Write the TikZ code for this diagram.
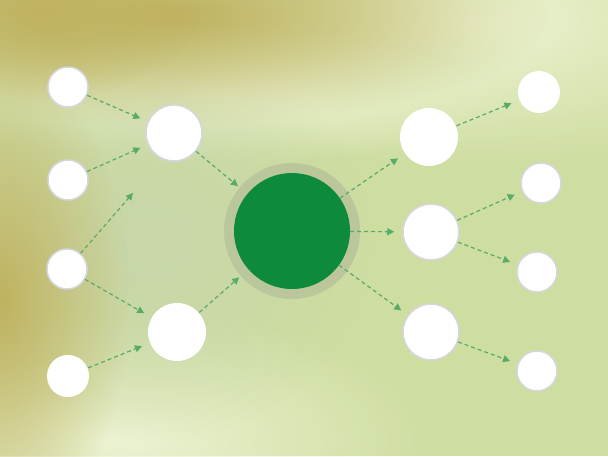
\documentclass[tikz,border=0pt]{standalone}
\usetikzlibrary{arrows.meta,fadings}
\definecolor{bgbase}{RGB}{206,221,160}
\definecolor{bglight}{RGB}{236,243,210}
\definecolor{bggrey}{RGB}{200,214,170}
\definecolor{bgolive}{RGB}{192,178,96}
\definecolor{hubgreen}{RGB}{13,138,60}
\definecolor{linkgreen}{RGB}{86,172,104}
\definecolor{rimgray}{RGB}{214,214,222}
\definecolor{halogray}{RGB}{176,186,150}
\tikzfading[name=softblob, inner color=transparent!0, outer color=transparent!100]
\begin{document}
\begin{tikzpicture}[x=1pt,y=-1pt,
  leaf/.style={circle,fill=white,draw=rimgray,line width=1.5pt,minimum size=40pt,inner sep=0pt},
  bare/.style={draw=none},
  mid/.style={leaf,minimum size=56pt},
  hub/.style={circle,fill=hubgreen,minimum size=116pt,inner sep=0pt},
  halo/.style={circle,fill=halogray,fill opacity=0.6,minimum size=136pt,inner sep=0pt},
  link/.style={draw=linkgreen,line width=1.2pt,dash pattern=on 4pt off 3pt,
    -{Triangle[length=7pt,width=7pt]},shorten >=8pt},
  blob/.style={path fading=softblob}]
\useasboundingbox (0,0) rectangle (608,456);
% background
\fill[bgbase] (0,0) rectangle (608,456);
\begin{scope}
\clip (0,0) rectangle (608,456);
\fill[bglight,blob] (480,20) ellipse [x radius=330, y radius=150];
\fill[bglight,blob] (120,440) ellipse [x radius=320, y radius=130];
\fill[bglight,blob] (220,95) ellipse [x radius=300, y radius=70];
\fill[bggrey,blob] (150,240) ellipse [x radius=220, y radius=200];
\fill[bgolive,blob] (170,15) ellipse [x radius=380, y radius=110];
\fill[bgolive,blob] (40,10) ellipse [x radius=160, y radius=90];
\fill[bgolive,blob] (0,300) ellipse [x radius=130, y radius=240];
\end{scope}
% nodes
\node[leaf] (l1) at (68,87) {};
\node[leaf] (l2) at (68,180) {};
\node[leaf] (l3) at (67,269) {};
\node[leaf,bare,minimum size=42pt] (l4) at (68,376) {};
\node[mid] (m1) at (174,133) {};
\node[mid,bare,minimum size=58pt] (m2) at (177,332) {};
\node[halo] (ring) at (292,231) {};
\node[hub] (hub) at (292,231) {};
\node[mid,bare,minimum size=58pt] (r1) at (429,137) {};
\node[mid] (r2) at (431,232) {};
\node[mid] (r3) at (431,332) {};
\node[leaf,bare,minimum size=42pt] (s1) at (539,92) {};
\node[leaf] (s2) at (541,183) {};
\node[leaf] (s3) at (537,272) {};
\node[leaf] (s4) at (537,371) {};
\coordinate (l3up) at (133,193);
% links
\draw[link] (l1) -- (m1);
\draw[link] (l2) -- (m1);
\draw[link,shorten >=0pt] (l3) -- (l3up);
\draw[link] (l3) -- (m2);
\draw[link] (l4) -- (m2);
\draw[link,shorten >=12pt] (m1) -- (hub);
\draw[link,shorten >=12pt] (m2) -- (hub);
\draw[link] (hub) -- (r1);
\draw[link] (hub) -- (r2);
\draw[link] (hub) -- (r3);
\draw[link] (r1) -- (s1);
\draw[link] (r2) -- (s2);
\draw[link] (r2) -- (s3);
\draw[link] (r3) -- (s4);
\end{tikzpicture}
\end{document}
